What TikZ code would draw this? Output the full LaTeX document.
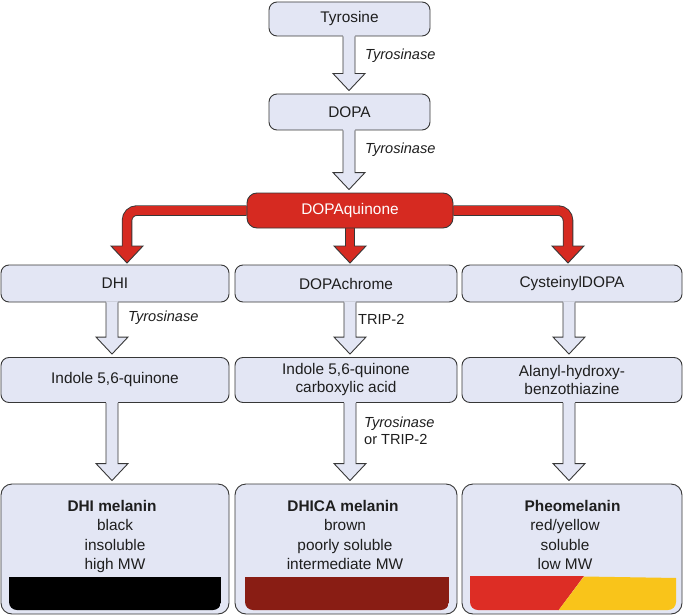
\documentclass[tikz,border=0pt]{standalone}
\usepackage{fontspec}
\setmainfont{Liberation Sans}
\usetikzlibrary{backgrounds,calc}
\definecolor{boxfill}{RGB}{227,230,244}
\definecolor{boxline}{RGB}{55,55,55}
\definecolor{qred}{RGB}{214,42,33}
\definecolor{brownbar}{RGB}{137,29,20}
\definecolor{pheored}{RGB}{221,45,37}
\definecolor{pheoyellow}{RGB}{249,196,26}
\definecolor{txt}{RGB}{30,30,30}
\tikzset{
  box/.style={draw=boxline, fill=boxfill, rounded corners=8pt, line width=0.9pt, inner sep=0pt, text=txt, align=center, font=\fontsize{15.4}{18}\selectfont},
  quinone/.style={box, fill=qred, text=white, rounded corners=10pt},
  hollowfill/.style={fill=boxfill},
  hollowline/.style={draw=boxline, line width=0.9pt, line join=miter},
  lbl/.style={inner sep=0pt, anchor=west, text=txt, font=\fontsize{14.6}{17}\selectfont},
  redout/.style={draw=boxline, line width=10.5pt, rounded corners=10pt},
  redin/.style={draw=qred, line width=8.7pt, rounded corners=10pt},
  redhead/.style={fill=qred, draw=boxline, line width=0.9pt, line join=miter},
  bigtitle/.style={inner sep=0pt, anchor=north, text=txt, font=\fontsize{15.4}{19.3}\selectfont\bfseries},
  bigbody/.style={inner sep=0pt, anchor=north, text=txt, align=center, font=\fontsize{15.4}{19.3}\selectfont},
}
\newcommand\hollowarrow[3]{%
  \fill[hollowfill] let \p1=(#2.south), \p2=(#3.north) in
    ({#1pt-6pt},{\y1+1.2pt}) -- ({#1pt-6pt},{\y2+20pt}) -- ({#1pt-16pt},{\y2+20pt}) -- ({#1pt},{\y2+3pt}) -- ({#1pt+16pt},{\y2+20pt}) -- ({#1pt+6pt},{\y2+20pt}) -- ({#1pt+6pt},{\y1+1.2pt}) -- cycle;
  \draw[hollowline] let \p1=(#2.south), \p2=(#3.north) in
    ({#1pt-6pt},{\y1}) -- ({#1pt-6pt},{\y2+20pt}) -- ({#1pt-16pt},{\y2+20pt}) -- ({#1pt},{\y2+3pt}) -- ({#1pt+16pt},{\y2+20pt}) -- ({#1pt+6pt},{\y2+20pt}) -- ({#1pt+6pt},{\y1});
}
\begin{document}
\begin{tikzpicture}[x=1pt,y=-1pt]
\useasboundingbox (0,0) rectangle (685,615);
% boxes
\node[box, minimum width=161pt, minimum height=34pt] (tyr) at (349.5,19) {Tyrosine};
\node[box, minimum width=161pt, minimum height=36pt] (dopa) at (349.5,112) {DOPA};
\node[quinone, minimum width=206pt, minimum height=35pt] (dq) at (350,210.5) {DOPAquinone};
\node[box, minimum width=228pt, minimum height=37pt] (dhi) at (115,283.5) {DHI};
\node[box, minimum width=222pt, minimum height=37pt] (dc) at (346,283.5) {DOPAchrome};
\node[box, minimum width=220pt, minimum height=37pt] (cys) at (572,283.5) {CysteinylDOPA};
\node[box, minimum width=228pt, minimum height=45pt] (iq) at (115,380) {Indole 5,6-quinone};
\node[box, minimum width=222pt, minimum height=45pt] (iqc) at (346,380) {Indole 5,6-quinone\\carboxylic acid};
\node[box, minimum width=220pt, minimum height=45pt] (abt) at (572,380) {Alanyl-hydroxy-\\benzothiazine};
\node[box, rounded corners=11pt, minimum width=228pt, minimum height=130pt] (mdhi) at (115,549) {};
\node[box, rounded corners=11pt, minimum width=222pt, minimum height=130pt] (mdhica) at (346,549) {};
\node[box, rounded corners=11pt, minimum width=220pt, minimum height=130pt] (mpheo) at (572,549) {};
% red connectors
\coordinate (hL) at (127,246);
\coordinate (hM) at (350,246);
\coordinate (hR) at (568,246);
\begin{scope}[on background layer]
  \draw[redout] (dq.west) -| (hL);
  \draw[redout] (dq.south) -- (hM);
  \draw[redout] (dq.east) -| (hR);
  \foreach \h in {hL,hM,hR} \filldraw[redhead] (\h) ++(-16,0) -- ++(16,17) -- ++(16,-17) -- cycle;
  \draw[redin] (dq.west) -| ([yshift=-1.5pt]hL);
  \draw[redin] (dq.south) -- ([yshift=-1.5pt]hM);
  \draw[redin] (dq.east) -| ([yshift=-1.5pt]hR);
\end{scope}
% hollow connectors
\hollowarrow{349}{tyr}{dopa}
\hollowarrow{349}{dopa}{dq}
\hollowarrow{112}{dhi}{iq}
\hollowarrow{350}{dc}{iqc}
\hollowarrow{569}{cys}{abt}
\hollowarrow{112}{iq}{mdhi}
\hollowarrow{350}{iqc}{mdhica}
\hollowarrow{569}{abt}{mpheo}
% labels
\node[lbl] (l1) at (365,56) {\itshape Tyrosinase};
\node[lbl] (l2) at (365,150) {\itshape Tyrosinase};
\node[lbl] (l3) at (128,318) {\itshape Tyrosinase};
\node[lbl] (l4) at (358,319) {TRIP-2};
\node[lbl, align=left] (l5) at (364,431) {{\itshape Tyrosinase}\\or TRIP-2};
% colour bars
\begin{scope}
  \clip[rounded corners=8pt] (9,560) rectangle (221,610);
  \fill[black] (9,577) rectangle (221,611);
\end{scope}
\begin{scope}
  \clip[rounded corners=8pt] (245,560) rectangle (449,610);
  \fill[brownbar] (245,577) rectangle (449,611);
\end{scope}
\begin{scope}
  \clip[rounded corners=8pt] (470,560) rectangle (676,610);
  \fill[pheored] (469,576) -- (584,576) -- (558,611) -- (469,611) -- cycle;
  \fill[pheoyellow] (584,576.5) -- (677,578) -- (677,611) -- (558,611) -- cycle;
\end{scope}
% melanin texts
\node[bigtitle] (t1) at (112,500) {DHI melanin};
\node[bigbody] (b1) at (115,519.5) {black\\insoluble\\high MW};
\node[bigtitle] (t2) at (343,500) {DHICA melanin};
\node[bigbody] (b2) at (345,519.5) {brown\\poorly soluble\\intermediate MW};
\node[bigtitle] (t3) at (572.5,500) {Pheomelanin};
\node[bigbody] (b3) at (565,519.5) {red/yellow\\soluble\\low MW};
\end{tikzpicture}
\end{document}
